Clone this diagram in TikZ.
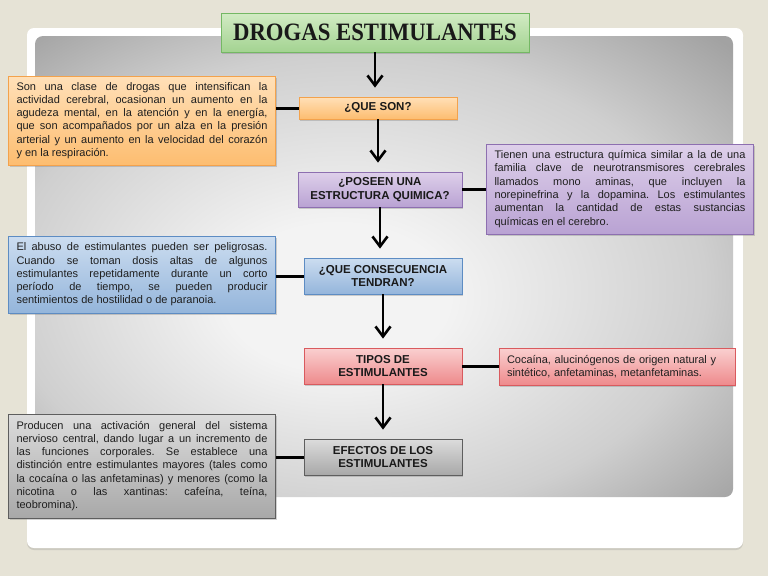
\documentclass[tikz,border=0pt]{standalone}
\usepackage{fontspec}
\setmainfont{Liberation Sans}
\newfontfamily\titulofont[FakeStretch=0.91]{Liberation Serif}
\usetikzlibrary{arrows.meta,shadows}
\frenchspacing

\definecolor{fondo}{HTML}{E6E3D6}
\definecolor{panelA}{HTML}{F3F3F3}
\definecolor{panelB}{HTML}{CFCFCF}
\definecolor{panelC}{HTML}{A2A2A2}
\definecolor{verdeA}{HTML}{D2EBC4}\definecolor{verdeB}{HTML}{A3D391}\definecolor{verdeC}{HTML}{74B864}
\definecolor{naranjaA}{HTML}{FFE0B8}\definecolor{naranjaB}{HTML}{FDBD70}\definecolor{naranjaC}{HTML}{F3A24C}
\definecolor{moradoA}{HTML}{DED0EA}\definecolor{moradoB}{HTML}{B9A2D3}\definecolor{moradoC}{HTML}{8D6FB0}
\definecolor{azulA}{HTML}{CCDDF0}\definecolor{azulB}{HTML}{94B5DB}\definecolor{azulC}{HTML}{5D8CC3}
\definecolor{rojoA}{HTML}{FAD0D0}\definecolor{rojoB}{HTML}{EE8A8C}\definecolor{rojoC}{HTML}{D95A5E}
\definecolor{grisA}{HTML}{DCDCDC}\definecolor{grisB}{HTML}{A8A8A8}\definecolor{grisC}{HTML}{5E5E5E}

\pgfdeclareradialshading{panel}{\pgfpoint{-4bp}{-4bp}}{color(0bp)=(panelA); color(8bp)=(panelA); color(25bp)=(panelB); color(36bp)=(panelC); color(50bp)=(panelC)}

\tikzset{
  sombra/.style={drop shadow={opacity=0.35,shadow xshift=1pt,shadow yshift=-1.5pt}},
  caja/.style={draw, line width=0.8pt, sombra, minimum width=158pt, minimum height=36pt,
    inner sep=2pt, align=center, text=black!90, font=\bfseries\fontsize{11.5}{13.5}\selectfont},
  texto/.style={draw, line width=0.8pt, sombra, text width=251pt, inner xsep=8pt, inner ysep=3pt,
    align=justify, text=black!88, font=\fontsize{11}{13.3}\selectfont},
  verde/.style={top color=verdeA, bottom color=verdeB, draw=verdeC},
  naranja/.style={top color=naranjaA, bottom color=naranjaB, draw=naranjaC},
  morado/.style={top color=moradoA, bottom color=moradoB, draw=moradoC},
  azul/.style={top color=azulA, bottom color=azulB, draw=azulC},
  rojo/.style={top color=rojoA, bottom color=rojoB, draw=rojoC},
  gris/.style={top color=grisA, bottom color=grisB, draw=grisC},
  flecha/.style={line width=2.6pt, -{Straight Barb[length=10pt,width=15pt]}, shorten >=9pt},
  linea/.style={line width=3pt},
}

\begin{document}
\begin{tikzpicture}[x=1pt,y=-1pt]
\useasboundingbox (0,0) rectangle (768,576);
\fill[fondo] (0,0) rectangle (768,576);
\fill[white, rounded corners=7pt, drop shadow={opacity=0.25,shadow xshift=0pt,shadow yshift=-2pt}] (27,28) rectangle (743,548);
\shade[shading=panel, rounded corners=8pt] (35,36) rectangle (733,497);

% nodos centrales
\node[caja, verde, minimum width=308pt, minimum height=39pt, font=\titulofont\bfseries\fontsize{25}{25}\selectfont] (drogas) at (375,32.5) {DROGAS ESTIMULANTES};
\node[caja, naranja, minimum height=22pt] (queson) at (378,108) {¿QUE SON?};
\node[caja, morado, minimum width=164pt, minimum height=35pt] (poseen) at (380,189.5) {¿POSEEN UNA\\ESTRUCTURA QUIMICA?};
\node[caja, azul] (consec) at (383,276) {¿QUE CONSECUENCIA\\TENDRAN?};
\node[caja, rojo] (tipos) at (383,366) {TIPOS DE\\ESTIMULANTES};
\node[caja, gris] (efectos) at (383,457) {EFECTOS DE LOS\\ESTIMULANTES};

% textos laterales
\node[texto, naranja, minimum height=89pt] (tqueson) at (142,120.5) {Son una clase de drogas que intensifican la\linebreak actividad cerebral, ocasionan un aumento en la\linebreak agudeza mental, en la atención y en la energía,\linebreak que son acompañados por un alza en la presión\linebreak arterial y un aumento en la velocidad del corazón\linebreak y en la respiración.};
\node[texto, morado, minimum height=90pt] (tposeen) at (620,189) {Tienen una estructura química similar a la de una\linebreak familia clave de neurotransmisores cerebrales\linebreak llamados mono aminas, que incluyen la\linebreak norepinefrina y la dopamina. Los estimulantes\linebreak aumentan la cantidad de estas sustancias\linebreak químicas en el cerebro.};
\node[texto, azul, minimum height=77pt] (tconsec) at (142,274.5) {El abuso de estimulantes pueden ser peligrosas.\linebreak Cuando se toman dosis altas de algunos\linebreak estimulantes repetidamente durante un corto\linebreak período de tiempo, se pueden producir\linebreak sentimientos de hostilidad o de paranoia.};
\node[texto, rojo, text width=220pt, align=left, minimum height=37pt] (ttipos) at (617,366.5) {Cocaína, alucinógenos de origen natural y\\sintético, anfetaminas, metanfetaminas.};
\node[texto, gris, minimum height=104pt] (tefectos) at (142,466) {Producen una activación general del sistema\linebreak nervioso central, dando lugar a un incremento de\linebreak las funciones corporales. Se establece una\linebreak distinción entre estimulantes mayores (tales como\linebreak la cocaína o las anfetaminas) y menores (como la\linebreak nicotina o las xantinas: cafeína, teína,\linebreak teobromina).};

% flechas
\draw[flecha] (drogas.south) -- (drogas.south |- queson.north);
\draw[flecha] (queson.south) -- (queson.south |- poseen.north);
\draw[flecha] (poseen.south) -- (poseen.south |- consec.north);
\draw[flecha] (consec.south) -- (consec.south |- tipos.north);
\draw[flecha] (tipos.south) -- (tipos.south |- efectos.north);

% lineas
\draw[linea] (queson.west) -- (queson.west -| tqueson.east);
\draw[linea] (poseen.east) -- (poseen.east -| tposeen.west);
\draw[linea] (consec.west) -- (consec.west -| tconsec.east);
\draw[linea] (tipos.east) -- (tipos.east -| ttipos.west);
\draw[linea] (efectos.west) -- (tefectos.east |- efectos.west);
\end{tikzpicture}
\end{document}
